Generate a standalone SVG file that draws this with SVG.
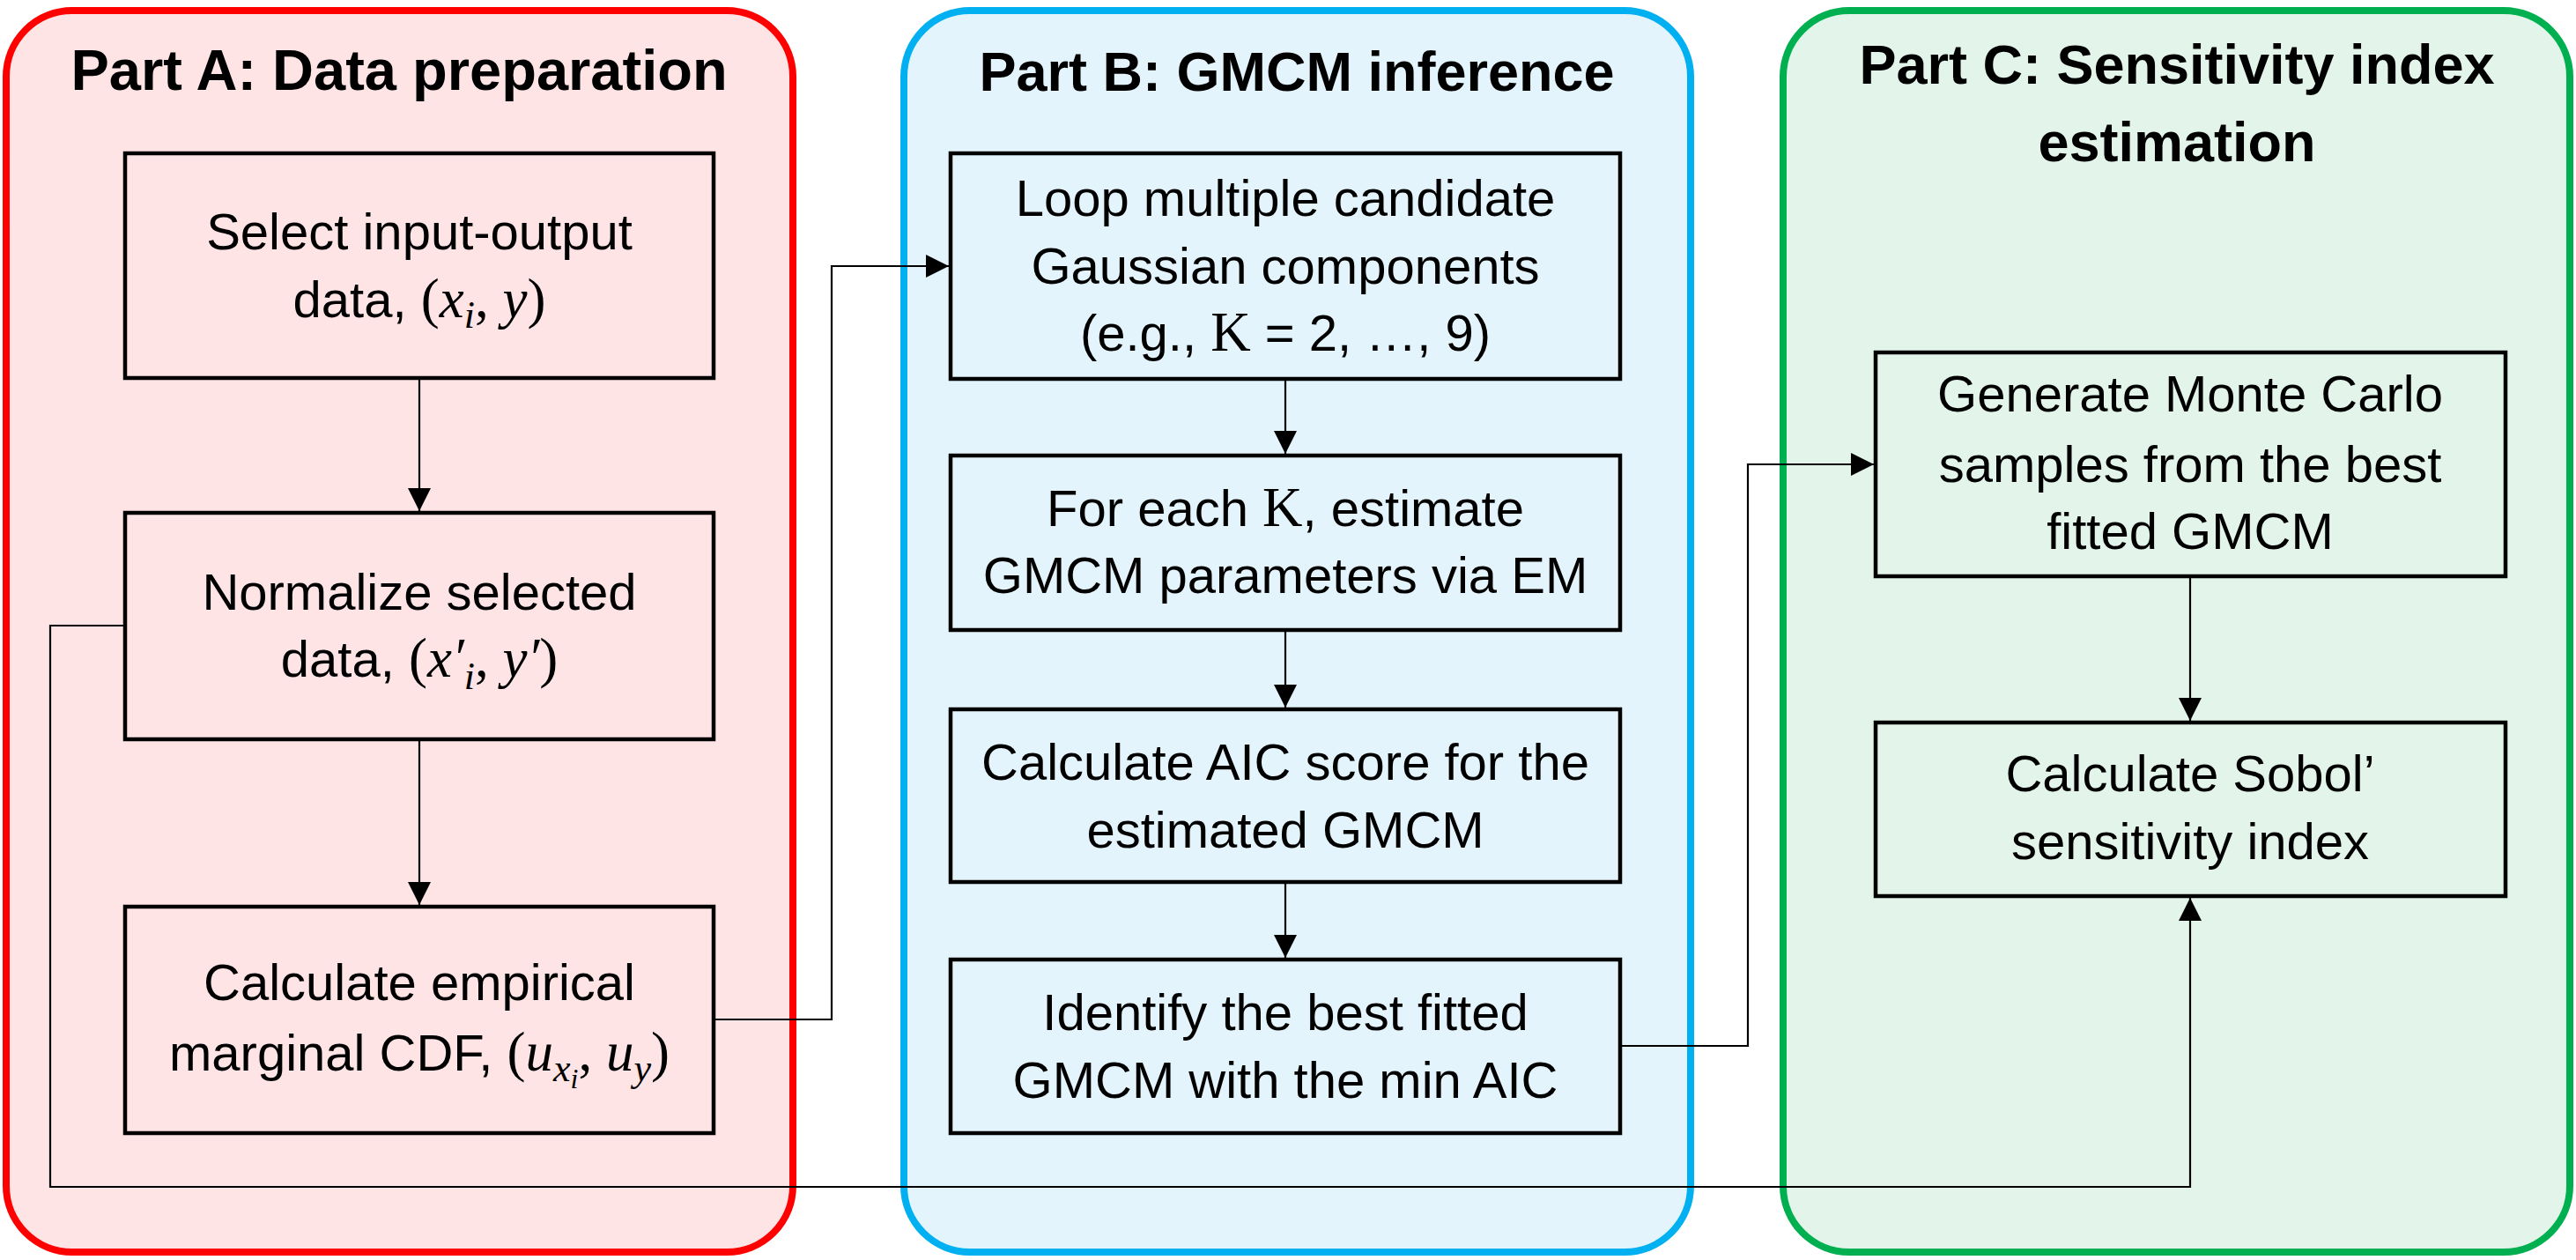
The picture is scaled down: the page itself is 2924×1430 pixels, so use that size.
<svg xmlns="http://www.w3.org/2000/svg" width="2924" height="1430" viewBox="0 0 2924 1430">
<style>
.panel{stroke-width:8}
.pa{fill:#FFE4E6;stroke:#FF0000}
.pb{fill:#E3F4FC;stroke:#00B0F0}
.pc{fill:#E3F5EA;stroke:#00B050}
.box{fill:none;stroke:#000;stroke-width:4.5}
.title{font-family:"Liberation Sans",Arial,sans-serif;font-weight:bold;font-size:63px;fill:#000;text-anchor:middle}
.t{font-family:"Liberation Sans",Arial,sans-serif;font-size:58px;fill:#000;text-anchor:middle}
.m{font-family:"Liberation Serif","Times New Roman",serif;font-style:italic;font-size:63px}
.mu{font-family:"Liberation Serif","Times New Roman",serif;font-size:63px}
.sub{font-family:"Liberation Serif","Times New Roman",serif;font-style:italic;font-size:44px}
.sub2{font-family:"Liberation Serif","Times New Roman",serif;font-style:italic;font-size:32px}
.conn{fill:none;stroke:#000;stroke-width:2.2}
</style>
<defs>
<marker id="arr" viewBox="0 0 26 26" markerWidth="26" markerHeight="26" refX="26" refY="13" orient="auto" markerUnits="userSpaceOnUse">
<path d="M0,0 L26,13 L0,26 z" fill="#000"/>
</marker>
</defs>

<g id="partA">
<rect class="panel pa" x="7" y="12" width="893" height="1409" rx="75" ry="75"/>
<text class="title" x="453" y="102" style="font-size:65px">Part A: Data preparation</text>
</g>
<g id="partB">
<rect class="panel pb" x="1026" y="12" width="893" height="1409" rx="75" ry="75"/>
<text class="title" x="1472" y="103">Part B: GMCM inference</text>
</g>
<g id="partC">
<rect class="panel pc" x="2024" y="12" width="893" height="1409" rx="75" ry="75"/>
<text class="title" x="2471" y="95">Part C: Sensitivity index</text>
<text class="title" x="2471" y="183">estimation</text>
</g>

<g id="A1">
<rect class="box" x="142" y="174" width="668" height="255"/>
<text class="t" x="476" y="283">Select input-output</text>
<text class="t" x="476" y="360">data, <tspan class="mu">(</tspan><tspan class="m">x</tspan><tspan class="sub" dy="12">i</tspan><tspan class="mu" dy="-12">, </tspan><tspan class="m">y</tspan><tspan class="mu">)</tspan></text>
</g>
<g id="A2">
<rect class="box" x="142" y="582" width="668" height="257"/>
<text class="t" x="476" y="692">Normalize selected</text>
<text class="t" x="476" y="768">data, <tspan class="mu">(</tspan><tspan class="m">x′</tspan><tspan class="sub" dy="14">i</tspan><tspan class="mu" dy="-14">, </tspan><tspan class="m">y′</tspan><tspan class="mu">)</tspan></text>
</g>
<g id="A3">
<rect class="box" x="142" y="1029" width="668" height="257"/>
<text class="t" x="476" y="1135">Calculate empirical</text>
<text class="t" x="476" y="1215">marginal CDF, <tspan class="mu">(</tspan><tspan class="m">u</tspan><tspan class="sub" dy="12">x</tspan><tspan class="sub2" dy="8">i</tspan><tspan class="mu" dy="-20">, </tspan><tspan class="m">u</tspan><tspan class="sub" dy="12">y</tspan><tspan class="mu" dy="-12">)</tspan></text>
</g>

<g id="B1">
<rect class="box" x="1079" y="174" width="760" height="256"/>
<text class="t" x="1459" y="245">Loop multiple candidate</text>
<text class="t" x="1459" y="322">Gaussian components</text>
<text class="t" x="1459" y="398">(e.g., <tspan class="mu">K</tspan> = 2, …, 9)</text>
</g>
<g id="B2">
<rect class="box" x="1079" y="517" width="760" height="198"/>
<text class="t" x="1459" y="597">For each <tspan class="mu">K</tspan>, estimate</text>
<text class="t" x="1459" y="673">GMCM parameters via EM</text>
</g>
<g id="B3">
<rect class="box" x="1079" y="805" width="760" height="196"/>
<text class="t" x="1459" y="885">Calculate AIC score for the</text>
<text class="t" x="1459" y="962">estimated GMCM</text>
</g>
<g id="B4">
<rect class="box" x="1079" y="1089" width="760" height="197"/>
<text class="t" x="1459" y="1169">Identify the best fitted</text>
<text class="t" x="1459" y="1246">GMCM with the min AIC</text>
</g>

<g id="C1">
<rect class="box" x="2129" y="400" width="715" height="254"/>
<text class="t" x="2486" y="467">Generate Monte Carlo</text>
<text class="t" x="2486" y="547">samples from the best</text>
<text class="t" x="2486" y="623">fitted GMCM</text>
</g>
<g id="C2">
<rect class="box" x="2129" y="820" width="715" height="197"/>
<text class="t" x="2486" y="898">Calculate Sobol’</text>
<text class="t" x="2486" y="975">sensitivity index</text>
</g>

<g id="connectors">
<path class="conn" d="M476,431 V580" marker-end="url(#arr)"/>
<path class="conn" d="M476,841 V1027" marker-end="url(#arr)"/>
<path class="conn" d="M812,1157 H944 V302 H1077" marker-end="url(#arr)"/>
<path class="conn" d="M1459,432 V515" marker-end="url(#arr)"/>
<path class="conn" d="M1459,717 V803" marker-end="url(#arr)"/>
<path class="conn" d="M1459,1003 V1087" marker-end="url(#arr)"/>
<path class="conn" d="M1841,1187 H1984 V527 H2127" marker-end="url(#arr)"/>
<path class="conn" d="M2486,656 V818" marker-end="url(#arr)"/>
<path class="conn" d="M140,710 H57 V1347 H2486 V1019" marker-end="url(#arr)"/>
</g>
</svg>
